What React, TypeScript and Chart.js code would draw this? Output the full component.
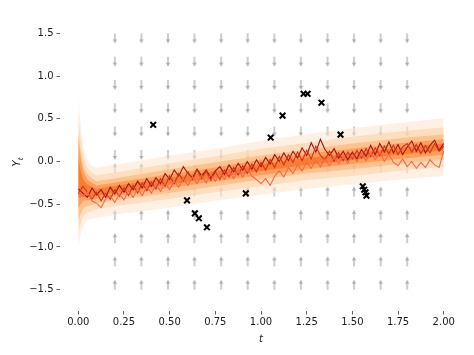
import React, { useEffect, useRef } from 'react';
import { Chart, registerables } from 'chart.js';
Chart.register(...registerables);

// ---- data ----
const X_TICKS = [0, 0.25, 0.5, 0.75, 1.0, 1.25, 1.5, 1.75, 2.0];
const Y_TICKS = [-1.5, -1.0, -0.5, 0.0, 0.5, 1.0, 1.5];

const ARROW_T = [0.2, 0.345, 0.491, 0.636, 0.782, 0.927, 1.073, 1.218, 1.364, 1.509, 1.655, 1.8];
const ARROW_Y = [-1.5, -1.227, -0.955, -0.682, -0.409, -0.136, 0.136, 0.409, 0.682, 0.955, 1.227, 1.5];

const OBS_T = [0.41, 0.595, 0.638, 0.66, 0.704, 0.917, 1.053, 1.118, 1.233, 1.255, 1.331, 1.435, 1.557, 1.565, 1.572, 1.577];
const OBS_Y = [0.43, -0.455, -0.607, -0.665, -0.77, -0.373, 0.28, 0.537, 0.793, 0.793, 0.688, 0.315, -0.29, -0.33, -0.36, -0.40];

const BAND_T = [0, 0.01, 0.02, 0.03, 0.05, 0.075, 0.1, 0.25, 0.5, 0.75, 1.0, 1.25, 1.5, 1.75, 2.0];
const BAND1_HI = [0.80, 0.50, 0.30, 0.16, 0.02, -0.05, -0.07, -0.02, 0.07, 0.15, 0.24, 0.32, 0.39, 0.45, 0.51];
const BAND1_LO = [-1.00, -0.88, -0.80, -0.74, -0.69, -0.67, -0.66, -0.61, -0.54, -0.46, -0.39, -0.32, -0.27, -0.21, -0.17];
const BAND2_HI = [0.55, 0.32, 0.16, 0.04, -0.08, -0.13, -0.16, -0.11, -0.02, 0.06, 0.15, 0.22, 0.29, 0.35, 0.40];
const BAND2_LO = [-0.85, -0.76, -0.68, -0.63, -0.60, -0.58, -0.56, -0.51, -0.44, -0.36, -0.29, -0.22, -0.17, -0.11, -0.06];
const BAND3_HI = [0.35, 0.16, 0.02, -0.07, -0.15, -0.20, -0.23, -0.18, -0.09, -0.01, 0.07, 0.14, 0.21, 0.27, 0.32];
const BAND3_LO = [-0.70, -0.63, -0.58, -0.54, -0.52, -0.51, -0.49, -0.44, -0.37, -0.29, -0.21, -0.14, -0.09, -0.03, 0.02];
const BAND4_HI = [0.27, 0.08, -0.05, -0.13, -0.21, -0.25, -0.28, -0.23, -0.15, -0.07, 0.02, 0.09, 0.15, 0.21, 0.26];
const BAND4_LO = [-0.55, -0.51, -0.48, -0.46, -0.45, -0.45, -0.44, -0.39, -0.31, -0.23, -0.16, -0.09, -0.03, 0.03, 0.08];
const BAND5_HI = [0.05, -0.08, -0.16, -0.22, -0.27, -0.30, -0.32, -0.27, -0.19, -0.11, -0.03, 0.04, 0.10, 0.16, 0.21];
const BAND5_LO = [-0.42, -0.42, -0.41, -0.41, -0.41, -0.41, -0.40, -0.35, -0.27, -0.19, -0.11, -0.04, 0.02, 0.08, 0.13];

const PATH_DT = 0.025;
const PATH_DARK = [
  -0.32, -0.37, -0.42, -0.31, -0.39, -0.33, -0.42, -0.30, -0.38, -0.28,
  -0.36, -0.26, -0.33, -0.23, -0.31, -0.20, -0.29, -0.19, -0.26, -0.14,
  -0.21, -0.10, -0.17, -0.06, -0.14, -0.19, -0.09, -0.17, -0.10, -0.19,
  -0.11, -0.06, -0.15, -0.04, -0.12, -0.02, -0.10, 0.00, -0.09, 0.02,
  -0.06, 0.05, -0.03, 0.08, 0.00, 0.10, 0.01, 0.12, 0.04, 0.16,
  0.07, 0.22, 0.11, 0.26, 0.14, 0.07, 0.15, 0.04, 0.12, 0.02,
  0.11, 0.03, 0.14, 0.06, 0.19, 0.08, 0.21, 0.11, 0.23, 0.10,
  0.20, 0.08, 0.17, 0.24, 0.12, 0.22, 0.10, 0.19, 0.25, 0.13,
  0.21,
];
const PATH_MID = [
  -0.38, -0.29, -0.36, -0.44, -0.36, -0.46, -0.37, -0.44, -0.33, -0.41,
  -0.31, -0.40, -0.28, -0.37, -0.25, -0.34, -0.24, -0.32, -0.20, -0.29,
  -0.17, -0.26, -0.14, -0.23, -0.12, -0.21, -0.10, -0.20, -0.11, -0.22,
  -0.12, -0.21, -0.10, -0.18, -0.07, -0.16, -0.05, -0.14, -0.03, -0.12,
  -0.01, -0.10, 0.02, -0.07, 0.06, -0.04, 0.08, -0.01, 0.11, 0.01,
  0.13, 0.03, 0.18, 0.07, 0.02, 0.12, 0.00, 0.10, 0.01, 0.11,
  0.03, 0.13, 0.04, 0.15, 0.06, 0.16, 0.07, 0.18, 0.09, 0.19,
  0.08, 0.17, 0.21, 0.11, 0.20, 0.09, 0.19, 0.10, 0.21, 0.12,
  0.18,
];
const PATH_LIGHT = [
  -0.35, -0.41, -0.36, -0.46, -0.49, -0.54, -0.44, -0.40, -0.48, -0.38,
  -0.45, -0.34, -0.42, -0.32, -0.40, -0.29, -0.37, -0.27, -0.35, -0.25,
  -0.33, -0.23, -0.30, -0.20, -0.28, -0.18, -0.26, -0.16, -0.25, -0.15,
  -0.23, -0.13, -0.21, -0.11, -0.20, -0.10, -0.18, -0.08, -0.17, -0.21,
  -0.26, -0.20, -0.28, -0.17, -0.11, -0.18, -0.07, -0.14, -0.04, -0.11,
  -0.01, -0.08, 0.02, -0.06, 0.03, -0.05, 0.05, -0.03, 0.06, -0.02,
  0.08, 0.00, 0.09, 0.01, 0.10, 0.02, 0.11, 0.00, 0.08, -0.01,
  -0.05, 0.03, -0.06, 0.00, -0.08, -0.01, -0.07, 0.02, -0.04, -0.07,
  0.12,
];

// ---- helpers ----
function makeArrow(up: boolean): HTMLCanvasElement {
  const c = document.createElement('canvas');
  const L = 10;
  c.width = 8;
  c.height = 2 * L + 4;
  const ctx = c.getContext('2d')!;
  const cx = c.width / 2;
  const cy = c.height / 2;
  const dir = up ? -1 : 1;
  const tip = cy + dir * L;
  const headLen = 4.5;
  const neck = tip - dir * headLen;
  ctx.fillStyle = '#acacac';
  ctx.fillRect(cx - 0.6, Math.min(cy, neck), 1.2, Math.abs(neck - cy));
  ctx.beginPath();
  ctx.moveTo(cx - 2.0, neck + dir * 0.6);
  ctx.lineTo(cx, tip);
  ctx.lineTo(cx + 2.0, neck + dir * 0.6);
  ctx.lineTo(cx, neck);
  ctx.closePath();
  ctx.fill();
  return c;
}

const fmtY = (v: number) => (v < 0 ? '\u2212' + Math.abs(v).toFixed(1) : v.toFixed(1));
const fmtX = (v: number) => v.toFixed(2);

const axisTitles = {
  id: 'axisTitles',
  afterDraw(chart: any) {
    const { ctx, chartArea } = chart;
    ctx.save();
    ctx.fillStyle = '#1a1a1a';
    ctx.font = 'italic 10px "DejaVu Sans"';
    ctx.textAlign = 'center';
    ctx.textBaseline = 'alphabetic';
    ctx.fillText('t', (chartArea.left + chartArea.right) / 2, 342);
    ctx.translate(20, 162);
    ctx.rotate(-Math.PI / 2);
    ctx.textAlign = 'left';
    ctx.font = 'italic 10px "DejaVu Sans"';
    const wY = ctx.measureText('Y').width;
    ctx.font = 'italic 7px "DejaVu Sans"';
    const wT = ctx.measureText('t').width;
    const x0 = -(wY + wT) / 2;
    ctx.font = 'italic 10px "DejaVu Sans"';
    ctx.fillText('Y', x0, 0);
    ctx.font = 'italic 7px "DejaVu Sans"';
    ctx.fillText('t', x0 + wY, 2.5);
    ctx.restore();
  },
};

export default function App() {
  const ref = useRef<HTMLCanvasElement>(null);
  useEffect(() => {
    if (!ref.current) return;
    const downArrow = makeArrow(false);
    const upArrow = makeArrow(true);
    const arrowsDown: any[] = [];
    const arrowsUp: any[] = [];
    ARROW_Y.forEach((y) => ARROW_T.forEach((t) => (y > 0 ? arrowsDown : arrowsUp).push({ x: t, y })));

    const bands = [
      [BAND1_HI, BAND1_LO, 'rgba(254,230,206,0.55)'],
      [BAND2_HI, BAND2_LO, 'rgba(253,208,162,0.55)'],
      [BAND3_HI, BAND3_LO, 'rgba(253,170,100,0.55)'],
      [BAND4_HI, BAND4_LO, 'rgba(250,135,55,0.6)'],
      [BAND5_HI, BAND5_LO, 'rgba(240,100,20,0.55)'],
    ] as const;

    const datasets: any[] = [];
    datasets.push({
      type: 'scatter', data: OBS_T.map((t, i) => ({ x: t, y: OBS_Y[i] })),
      pointStyle: 'crossRot', pointRadius: 4, borderColor: '#000', backgroundColor: '#000', borderWidth: 2, order: 0,
    });
    const paths: [number[], string][] = [[PATH_DARK, '#a50f15'], [PATH_MID, '#d7301f'], [PATH_LIGHT, '#ef6a50']];
    paths.forEach(([p, col], k) => {
      datasets.push({
        type: 'line', data: p.map((v, i) => ({ x: i * PATH_DT, y: v })),
        borderColor: col, borderWidth: 1.1, pointRadius: 0, fill: false, tension: 0, order: 3 - k,
      });
    });
    bands.forEach(([hi, lo, col], k) => {
      const idx = datasets.length;
      datasets.push({
        type: 'line', data: BAND_T.map((t, i) => ({ x: t, y: hi[i] })),
        borderWidth: 0, borderColor: 'rgba(0,0,0,0)', pointRadius: 0, backgroundColor: col,
        fill: { target: idx + 1 }, order: 60 - k * 2, tension: 0,
      });
      datasets.push({
        type: 'line', data: BAND_T.map((t, i) => ({ x: t, y: lo[i] })),
        borderWidth: 0, borderColor: 'rgba(0,0,0,0)', pointRadius: 0, fill: false, order: 59 - k * 2, tension: 0,
      });
    });
    datasets.push({ type: 'scatter', data: arrowsDown, pointStyle: downArrow, pointRadius: 5, order: 100 });
    datasets.push({ type: 'scatter', data: arrowsUp, pointStyle: upArrow, pointRadius: 5, order: 101 });

    const tickFont = { family: '"DejaVu Sans"', size: 10 };
    const chart = new Chart(ref.current, {
      type: 'line',
      data: { datasets },
      plugins: [axisTitles],
      options: {
        animation: false,
        responsive: false,
        devicePixelRatio: 1,
        layout: { padding: { top: 12, right: 12, left: 0, bottom: 0 } },
        plugins: { legend: { display: false }, tooltip: { enabled: false } },
        scales: {
          x: {
            type: 'linear', min: -0.1, max: 2.1,
            afterBuildTicks: (s: any) => { s.ticks = X_TICKS.map((v) => ({ value: v })); },
            afterFit: (s: any) => { s.height = 44; },
            ticks: { font: tickFont, color: '#1a1a1a', padding: 2, maxRotation: 0, autoSkip: false, callback: (v: any) => fmtX(Number(v)) },
            grid: { display: true, drawOnChartArea: false, drawTicks: true, tickLength: 3.5, tickColor: '#333', tickWidth: 0.8 },
            border: { display: false },
          },
          y: {
            type: 'linear', min: -1.75, max: 1.75,
            afterBuildTicks: (s: any) => { s.ticks = Y_TICKS.map((v) => ({ value: v })); },
            afterFit: (s: any) => { s.width = 60; },
            ticks: { font: tickFont, color: '#1a1a1a', padding: 3, autoSkip: false, callback: (v: any) => fmtY(Number(v)) },
            grid: { display: true, drawOnChartArea: false, drawTicks: true, tickLength: 3.5, tickColor: '#333', tickWidth: 0.8 },
            border: { display: false },
          },
        },
      } as any,
    });
    return () => chart.destroy();
  }, []);
  return (
    <div style={{ position: 'absolute', left: 0, top: 0, width: 474, height: 355, background: '#fff' }}>
      <canvas ref={ref} width={474} height={355} />
    </div>
  );
}
